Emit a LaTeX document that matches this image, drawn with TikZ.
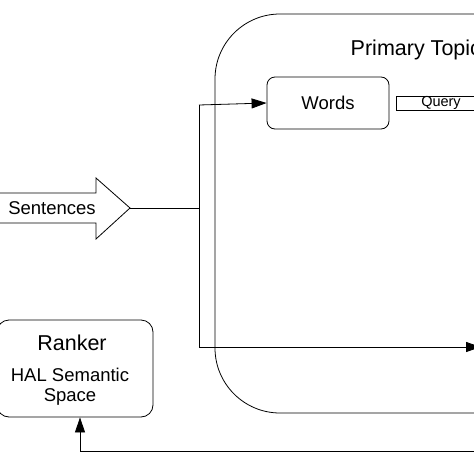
\documentclass[tikz,border=0pt]{standalone}
\usepackage{fontspec}
\setmainfont{Liberation Sans}
\usepackage{tikz}
\usetikzlibrary{shapes.geometric, arrows.meta, positioning}
\tikzset{
	block/.style={draw, rounded corners=8pt, inner sep=0pt},
	region/.style={draw, rounded corners=65pt, inner sep=0pt},
	tag/.style={draw, inner sep=0pt},
	flow/.style={-{Triangle[length=15pt,width=10pt]}}
}

\begin{document}
\begin{tikzpicture}[x=1pt, y=-1pt, line width=0.8pt]
		\useasboundingbox (0,0) rectangle (474,474);
		\clip (0,0) rectangle (474,474);
		
		\node[region, minimum width=405pt, minimum height=399pt] (topic) at (417.5,213.5) {};
		\node[anchor=west, font=\fontsize{21.5}{24}\selectfont] (title) at (347,50) {Primary Topic};
		
		\node[block, minimum width=122pt, minimum height=52pt] (words) at (328,103) {};
		\node[font=\fontsize{18.5}{20}\selectfont] at (words) {Words};
		
		\node[tag, minimum width=90pt, minimum height=14pt] (query) at (441,103) {};
		\node[font=\fontsize{14.5}{16}\selectfont] at (query) {Query};
		
		% input arrow
		\draw (-10,193) -- (96,193) -- (96,178) -- (130,208) -- (96,239) -- (96,223) -- (-10,223);
		\coordinate (tip) at (130,208);
		\node[font=\fontsize{18.5}{20}\selectfont] (sentences) at (52,208) {Sentences};
		
		\node[block, rounded corners=12pt, minimum width=156pt, minimum height=97pt] (ranker) at (75,368.5) {};
		\node[font=\fontsize{21.5}{24}\selectfont] at (72,343) {Ranker};
		\node[font=\fontsize{18.5}{20}\selectfont, align=center] at (70,387) {HAL Semantic\\Space};
		
		\coordinate (split) at (199,208);
		\coordinate (up) at (199,105);
		\coordinate (down) at (199,347);
		\coordinate (out) at (481,347);
		\coordinate (back) at (481,451);
		\coordinate (turn) at (80,451);
		
	\draw (tip) -- (split);
	\draw (up) -- (down);
	\draw[flow] (up) -- (words.west);
	\draw[flow] (down) -- (out);
	\draw[flow] (back) -- (turn) -- (ranker.south -| turn);
	\end{tikzpicture}
\end{document}
